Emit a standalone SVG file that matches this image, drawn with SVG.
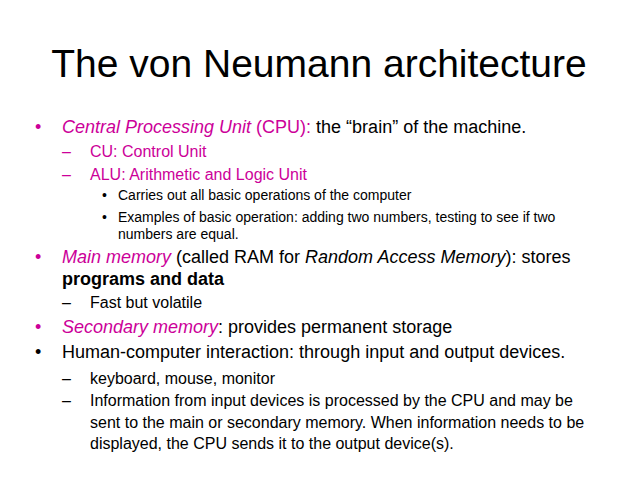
<svg xmlns="http://www.w3.org/2000/svg" width="638" height="478" viewBox="0 0 638 478">
<style>
text{font-family:"Liberation Sans",Arial,sans-serif;fill:#000}
.m{fill:#CC0099}
.l1{font-size:18px}
.l2{font-size:16px}
.l3{font-size:14px}
</style>
<rect width="638" height="478" fill="#fff"/>
<text x="319" y="77" font-size="39" text-anchor="middle">The von Neumann architecture</text>
<g id="b1" class="l1">
<text x="35" y="133" class="m">•</text>
<text x="62" y="133"><tspan class="m"><tspan font-style="italic">Central Processing Unit</tspan> (CPU):</tspan>  the “brain” of the machine.</text>
</g>
<g id="b1a" class="l2"><text x="62" y="157" class="m">–</text><text x="90" y="157" class="m">CU: Control Unit</text></g>
<g id="b1b" class="l2"><text x="62" y="180" class="m">–</text><text x="90" y="180" class="m">ALU: Arithmetic and Logic Unit</text></g>
<g id="b1b1" class="l3"><text x="102" y="200">•</text><text x="118" y="200">Carries out all basic operations of the computer</text></g>
<g id="b1b2" class="l3"><text x="102" y="222">•</text><text x="118" y="222">Examples of basic operation: adding two numbers, testing to see if two</text><text x="118" y="239">numbers are equal.</text></g>
<g id="b2" class="l1">
<text x="35" y="263" class="m">•</text>
<text x="62" y="263"><tspan class="m" font-style="italic">Main memory</tspan> (called RAM for <tspan font-style="italic">Random Access Memory</tspan>): stores</text>
<text x="62" y="285" font-weight="bold">programs and data</text>
</g>
<g id="b2a" class="l2"><text x="62" y="308">–</text><text x="90" y="308">Fast but volatile</text></g>
<g id="b3" class="l1"><text x="35" y="333" class="m">•</text><text x="62" y="333"><tspan class="m" font-style="italic">Secondary memory</tspan>: provides permanent storage</text></g>
<g id="b4" class="l1"><text x="35" y="358">•</text><text x="62" y="358">Human-computer interaction: through input and output devices.</text></g>
<g id="b4a" class="l2"><text x="62" y="384">–</text><text x="90" y="384">keyboard, mouse, monitor</text></g>
<g id="b4b" class="l2"><text x="62" y="406">–</text>
<text x="90" y="406">Information from input devices is processed by the CPU and may be</text>
<text x="90" y="428">sent to the main or secondary memory. When information needs to be</text>
<text x="90" y="449">displayed, the CPU sends it to the output device(s).</text></g>
</svg>
